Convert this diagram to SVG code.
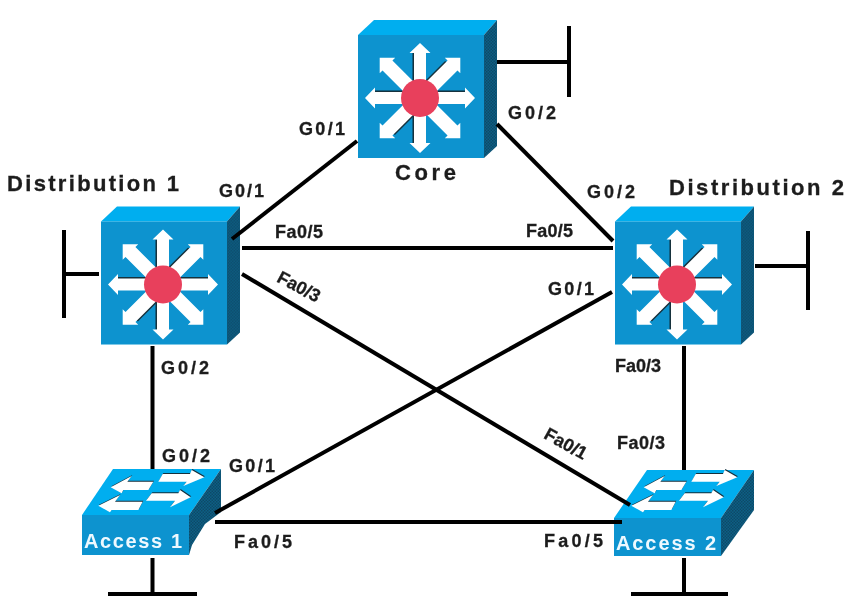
<svg xmlns="http://www.w3.org/2000/svg" xmlns:xlink="http://www.w3.org/1999/xlink" width="864" height="606" viewBox="0 0 864 606">
<style>
.w{fill:none;stroke:#000;stroke-width:4}
.l{font-family:"Liberation Sans",Arial,sans-serif;font-weight:bold;font-size:18px;fill:#1c1c1c;stroke:#1c1c1c;stroke-width:.3}
.n{font-size:22px}
.a{font-family:"Liberation Sans",Arial,sans-serif;font-weight:bold;font-size:20px;fill:#eef9ff}
.front{fill:#0a93cf}.top{fill:#05aeef}.side{fill:url(#dither)}
.ar{fill:#fff}.sh{fill:#15303c}
</style>
<defs>
<filter id="soft" x="-10%" y="-10%" width="120%" height="120%"><feGaussianBlur stdDeviation="0.5"/></filter>
<pattern id="dither" width="3" height="3" patternUnits="userSpaceOnUse"><rect width="3" height="3" fill="#0a5f85"/><rect width="1.5" height="1.5" fill="#0b4a68"/><rect x="1.5" y="1.5" width="1.5" height="1.5" fill="#0b4a68"/></pattern>
<polygon id="arrow" points="0,-6 45,-6 45,-10.500 55,0 45,10.500 45,6 0,6"/>
<polygon id="darrow" points="0,-7 46,-7 46,-11 57,0 46,11 46,7 0,7"/>
<g id="star">
<rect class="sh" x="0" y="-7.500" width="45" height="6"/>
<rect class="sh" x="-45" y="-7.500" width="45" height="6"/>
<rect class="sh" x="-7.500" y="0" width="6" height="45"/>
<rect class="sh" x="-7.500" y="-45" width="6" height="45"/>
<rect class="sh" x="0" y="-8.500" width="44" height="6" transform="rotate(135)"/>
<rect class="sh" x="0" y="-8.500" width="44" height="6" transform="rotate(315)"/>
<use xlink:href="#arrow" class="ar"/>
<use xlink:href="#arrow" class="ar" transform="rotate(90)"/>
<use xlink:href="#arrow" class="ar" transform="rotate(180)"/>
<use xlink:href="#arrow" class="ar" transform="rotate(270)"/>
<use xlink:href="#darrow" class="ar" transform="rotate(45)"/>
<use xlink:href="#darrow" class="ar" transform="rotate(135)"/>
<use xlink:href="#darrow" class="ar" transform="rotate(225)"/>
<use xlink:href="#darrow" class="ar" transform="rotate(315)"/>
<circle r="19" fill="#e8405c"/>
</g>
<g id="l3">
<polygon class="top" points="-62,-63 -46,-78 77,-78 64,-63"/>
<polygon class="side" points="64,-63 77,-78 77,48 64,60"/>
<rect class="front" x="-62" y="-63" width="126" height="123"/>
<use xlink:href="#star"/>
</g>
<g id="flat">
<g class="sh" transform="translate(2,-3)">
<polygon points="122,112 185,78 172,95 250,95 235,120 160,120 155,130"/>
<polygon points="278,72 360,72 365,60 403,82 340,108 350,95 265,95"/>
<polygon points="85,167 150,135 135,155 218,155 205,180 125,180 120,187"/>
<polygon points="245,130 325,130 330,120 362,142 300,172 315,152 228,152"/>
</g>
<g class="ar">
<polygon points="122,112 185,78 172,95 250,95 235,120 160,120 155,130"/>
<polygon points="278,72 360,72 365,60 403,82 340,108 350,95 265,95"/>
<polygon points="85,167 150,135 135,155 218,155 205,180 125,180 120,187"/>
<polygon points="245,130 325,130 330,120 362,142 300,172 315,152 228,152"/>
</g>
</g>
</defs>
<g id="core" filter="url(#soft)">
<use xlink:href="#l3" transform="translate(420,98)"/>
</g>
<g id="distribution1" filter="url(#soft)">
<use xlink:href="#l3" transform="translate(163,284.500)"/>
</g>
<g id="distribution2" filter="url(#soft)">
<use xlink:href="#l3" transform="translate(677,284.500)"/>
</g>
<g id="access1">
<g filter="url(#soft)">
<polygon class="top" points="113,469 221,469 189,515 82,515"/>
<polygon class="side" points="189,515 221,469 221,512 205,524 192,545 189,555"/>
<rect class="front" x="82" y="515" width="107" height="40"/>
<use xlink:href="#flat" transform="translate(70,450) scale(.3333)"/>
</g>
<text class="a" x="84" y="548" textLength="98" lengthAdjust="spacing" filter="url(#soft)">Access 1</text>
</g>
<g id="access2">
<g filter="url(#soft)">
<polygon class="top" points="647,470 754,470 721,518 614,518"/>
<polygon class="side" points="721,518 754,470 754,510 721,556"/>
<rect class="front" x="614" y="518" width="107" height="38"/>
<use xlink:href="#flat" transform="translate(603,450) scale(.3333)"/>
</g>
<text class="a" x="616" y="550" textLength="100" lengthAdjust="spacing" filter="url(#soft)">Access 2</text>
</g>
<g id="connectors">
<path class="w" d="M357,141L232,239"/>
<path class="w" d="M497,124L613,241"/>
<path class="w" d="M242,248H613"/>
<path class="w" d="M242,274L630,505"/>
<path class="w" d="M612,292L215,513"/>
<path class="w" d="M215,522H622"/>
<path class="w" d="M152.500,346V469"/>
<path class="w" d="M684,346V470"/>
<path class="w" d="M497,62H569M569,26V97"/>
<path class="w" d="M99,274H64M64,230V318"/>
<path class="w" d="M755,266H808M808,231V310"/>
<path class="w" d="M152.500,558V594M108,594H197"/>
<path class="w" d="M684,558V594M631,594H728"/>
</g>
<g id="labels" filter="url(#soft)">
<text class="l n" x="7" y="191" textLength="172" lengthAdjust="spacing">Distribution 1</text>
<text class="l n" x="669" y="195" textLength="175" lengthAdjust="spacing">Distribution 2</text>
<text class="l n" x="395" y="180" textLength="61" lengthAdjust="spacing">Core</text>
<text class="l" x="299" y="135" textLength="46" lengthAdjust="spacing">G0/1</text>
<text class="l" x="508" y="119" textLength="48" lengthAdjust="spacing">G0/2</text>
<text class="l" x="219" y="197" textLength="45" lengthAdjust="spacing">G0/1</text>
<text class="l" x="587" y="198" textLength="48" lengthAdjust="spacing">G0/2</text>
<text class="l" x="275" y="238" textLength="48" lengthAdjust="spacing">Fa0/5</text>
<text class="l" x="526" y="237" textLength="47" lengthAdjust="spacing">Fa0/5</text>
<text class="l" text-anchor="middle" transform="translate(296,292) rotate(28)">Fa0/3</text>
<text class="l" x="548" y="295" textLength="46" lengthAdjust="spacing">G0/1</text>
<text class="l" x="161" y="374" textLength="48" lengthAdjust="spacing">G0/2</text>
<text class="l" x="615" y="372" textLength="46" lengthAdjust="spacing">Fa0/3</text>
<text class="l" x="617" y="449" textLength="48" lengthAdjust="spacing">Fa0/3</text>
<text class="l" text-anchor="middle" transform="translate(563,449) rotate(29)">Fa0/1</text>
<text class="l" x="162" y="462" textLength="48" lengthAdjust="spacing">G0/2</text>
<text class="l" x="229" y="472" textLength="46" lengthAdjust="spacing">G0/1</text>
<text class="l" x="234" y="548" textLength="58" lengthAdjust="spacing">Fa0/5</text>
<text class="l" x="544" y="547" textLength="59" lengthAdjust="spacing">Fa0/5</text>
</g>
</svg>
